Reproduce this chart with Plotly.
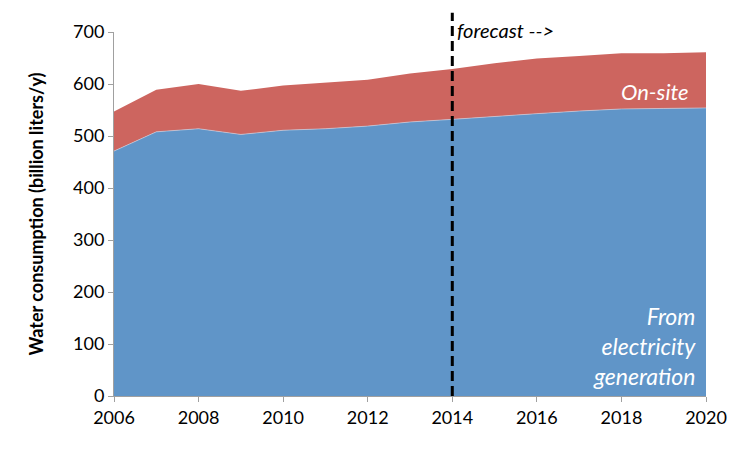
import plotly.graph_objects as go

# years and stacked water consumption (billion liters/y)
years = list(range(2006, 2021))
electricity = [471, 508, 514, 503, 511, 514, 519, 527, 532, 538, 543, 548, 552, 553, 554]
onsite = [76, 81, 86, 84, 86, 88, 89, 93, 97, 102, 106, 106, 107, 106, 107]
x_ticks = [2006, 2008, 2010, 2012, 2014, 2016, 2018, 2020]
y_ticks = [0, 100, 200, 300, 400, 500, 600, 700]
forecast_year = 2014

blue = "rgb(96,149,200)"
red = "rgb(205,101,95)"
font = "Lato, 'Open Sans', sans-serif"

fig = go.Figure()
fig.add_trace(go.Scatter(x=years, y=electricity, stackgroup="a", mode="lines",
                         line=dict(width=0.6, color="rgb(200,215,235)"),
                         fillcolor=blue, name="From electricity generation"))
fig.add_trace(go.Scatter(x=years, y=onsite, stackgroup="a", mode="lines",
                         line=dict(width=0, color=red),
                         fillcolor=red, name="On-site"))

# forecast divider
fig.add_shape(type="line", xref="x", yref="paper", x0=forecast_year, x1=forecast_year,
              y0=0, y1=1.053, line=dict(color="black", width=3, dash="10px,5px"))

fig.add_annotation(x=forecast_year, y=1.005, xref="x", yref="paper", text="<i>forecast --></i>",
                   showarrow=False, xanchor="left", yanchor="middle", xshift=3,
                   font=dict(family=font, size=20, color="black"))
fig.add_annotation(x=2020, y=585, xref="x", yref="y", text="<i>On-site</i>",
                   showarrow=False, xanchor="right", yanchor="middle", xshift=-15,
                   font=dict(family=font, size=22, color="white"))
fig.add_annotation(x=2020, y=0, xref="x", yref="y",
                   text="<i>From<br>electricity<br>generation</i>",
                   showarrow=False, xanchor="right", yanchor="bottom", align="right",
                   xshift=-8, yshift=4,
                   font=dict(family=font, size=23, color="white"))

fig.update_layout(
    width=755, height=451,
    margin=dict(l=106, r=57, t=20, b=63),
    plot_bgcolor="white", paper_bgcolor="white",
    showlegend=False,
    font=dict(family=font, size=17, color="black"),
)
fig.update_xaxes(range=[2006, 2020], tickvals=x_ticks, showgrid=False, zeroline=False,
                 showline=True, linecolor="#a0a0a0", linewidth=1,
                 ticks="outside", ticklen=5, tickcolor="#a0a0a0",
                 tickfont=dict(size=18))
fig.update_yaxes(range=[0, 700], tickvals=y_ticks, showgrid=False, zeroline=False,
                 showline=True, linecolor="#a0a0a0", linewidth=1,
                 ticks="outside", ticklen=5, tickcolor="#a0a0a0",
                 tickfont=dict(size=18),
                 title=dict(text="<b>Water consumption (billion liters/y)</b>",
                            font=dict(size=18), standoff=24))

fig.write_html("out.html")
